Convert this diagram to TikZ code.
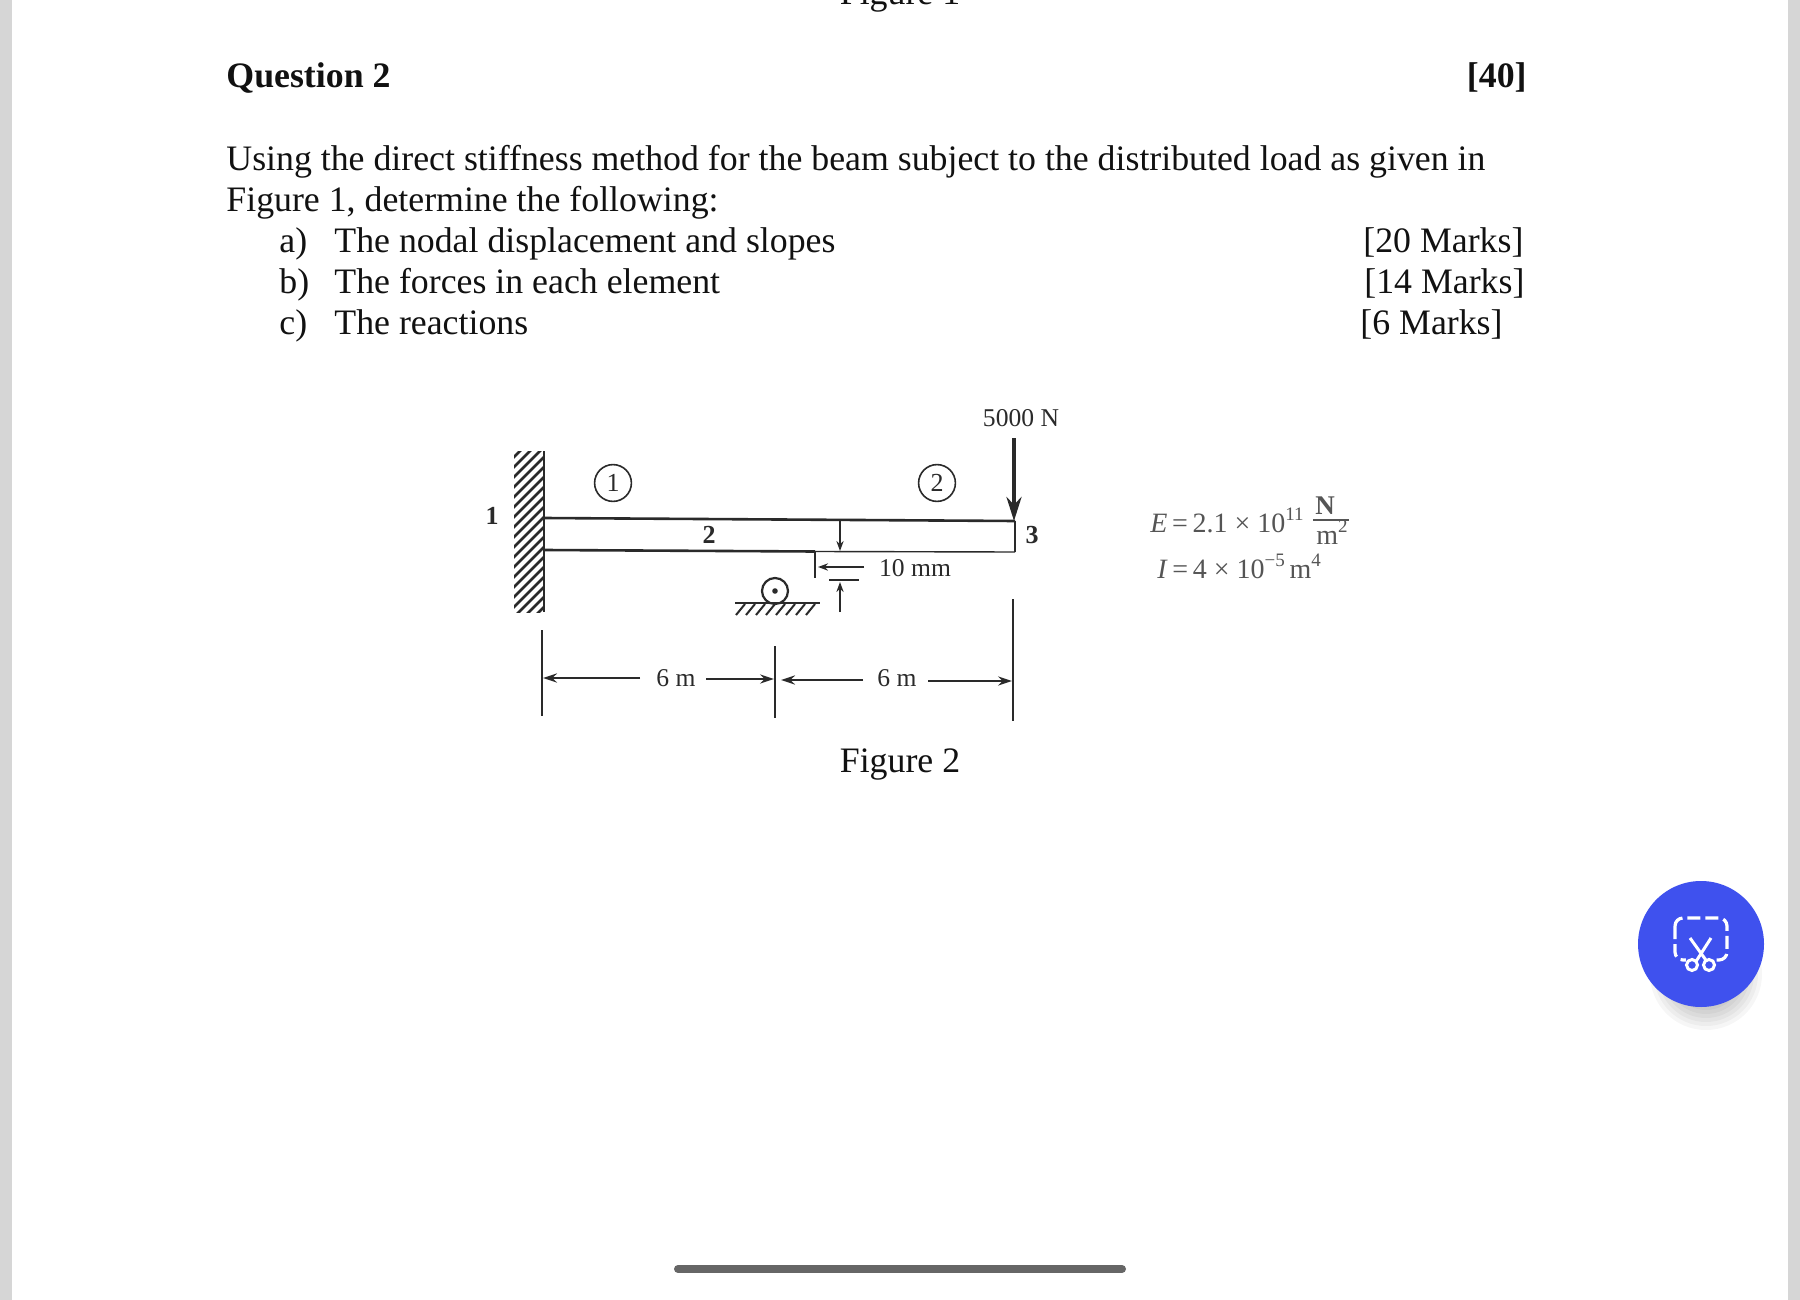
\documentclass[tikz,border=0pt]{standalone}
\usepackage{fontspec}
\setmainfont{Liberation Serif}
\usetikzlibrary{arrows.meta}
\definecolor{stripgrey}{HTML}{D6D6D6}
\definecolor{ink}{HTML}{111111}
\definecolor{figink}{HTML}{2A2A2A}
\definecolor{btnblue}{HTML}{3F51EE}
\definecolor{barcol}{HTML}{666666}
\tikzset{
  body/.style={anchor=base west,inner sep=0pt,text=ink,font=\fontsize{17.9}{21}\selectfont},
  bodybold/.style={body,font=\fontsize{17.9}{21}\selectfont\bfseries},
  figlabel/.style={inner sep=0pt,text=figink,font=\fontsize{12.8}{15}\selectfont},
  figbold/.style={figlabel,font=\fontsize{13}{15}\selectfont\bfseries},
  formula/.style={anchor=base west,inner sep=0pt,text=figink!80,font=\fontsize{14}{16}\selectfont},
  beamline/.style={draw=figink,line width=1.3pt},
  thinline/.style={draw=figink,line width=0.7pt},
  dimline/.style={draw=figink,line width=1.1pt},
  tipb/.style={-{Stealth[length=7pt,width=4.6pt]}},
  tipsmall/.style={-{Stealth[length=5pt,width=3.6pt]}},
  elem/.style={draw=figink,circle,line width=0.8pt,minimum size=18.4pt,inner sep=0pt,text=figink,font=\fontsize{13}{15}\selectfont},
}
\newcommand{\sop}[1]{\raisebox{0.42em}{\fontsize{9.5}{10}\selectfont #1}}
\begin{document}
\begin{tikzpicture}[x=0.5pt,y=-0.5pt]
\useasboundingbox (0,0) rectangle (1800,1300);
\fill[white] (0,0) rectangle (1800,1300);
\fill[stripgrey] (0,0) rectangle (12,1300);
\fill[stripgrey] (1788,0) rectangle (1800,1300);
% page text
\begin{scope}
\clip (0,0) rectangle (1800,1300);
\node[body,anchor=base] (figone) at (900,5) {Figure 1};
\end{scope}
\node[bodybold] (qtitle) at (226,88) {Question 2};
\node[bodybold,anchor=base east] (qmarks) at (1527,88) {[40]};
\node[body] (l1) at (226,171) {Using the direct stiffness method for the beam subject to the distributed load as given in};
\node[body] (l2) at (226,212) {Figure 1, determine the following:};
\node[body] (la) at (279,253) {a)};
\node[body] (lat) at (334,253) {The nodal displacement and slopes};
\node[body] (lam) at (1363,253) {[20 Marks]};
\node[body] (lb) at (279,294) {b)};
\node[body] (lbt) at (334,294) {The forces in each element};
\node[body] (lbm) at (1364,294) {[14 Marks]};
\node[body] (lc) at (279,335) {c)};
\node[body] (lct) at (334,335) {The reactions};
\node[body] (lcm) at (1360,335) {[6 Marks]};
\node[body,anchor=base] (figtwo) at (900,772) {Figure 2};
% wall
\begin{scope}
\clip (514,451) rectangle (544,612);
\foreach \k in {0,10,...,210}{
  \draw[figink,line width=1.25pt] (510,451+\k) -- (548,451+\k-38);
}
\end{scope}
\draw[beamline] (544,451) -- (544,612);
% beam
\coordinate (btl) at (544,518);
\coordinate (btr) at (1015,521);
\coordinate (bbl) at (544,550);
\coordinate (bbm) at (815,551.5);
\coordinate (bbr) at (1015,552);
\draw[beamline] (btl) -- (btr);
\draw[beamline] (bbl) -- (bbm);
\draw[thinline] (bbm) -- (bbr);
\draw[beamline] (btr) -- (bbr);
\node[figbold] (n1) at (492,516) {1};
\node[figbold] (n2) at (709,535) {2};
\node[figbold] (n3) at (1032,535) {3};
\node[elem] (e1) at (613,483) {1};
\node[elem] (e2) at (937,483) {2};
% force
\node[figlabel] (flab) at (1021,418) {5000 N};
\coordinate (fa) at (1014,438);
\coordinate (fb) at (1014,521);
\draw[draw=figink,line width=2pt,-{Stealth[length=12pt,width=7.5pt]}] (fa) -- (fb);
% 10 mm detail
\coordinate (ta) at (840,521);
\coordinate (tb) at (840,551);
\coordinate (ua) at (840,612);
\coordinate (ub) at (840,582);
\draw[thinline,tipsmall] (ta) -- (tb);
\draw[thinline,tipsmall] (ua) -- (ub);
\draw[thinline] (815,552) -- (815,578);
\draw[draw=figink,line width=1pt,tipsmall] (864,567) -- (818,567);
\draw[thinline] (829,580) -- (859,580);
\node[figlabel] (tenmm) at (915,568) {10 mm};
% roller
\node[draw=figink,circle,line width=1.1pt,minimum size=13pt,inner sep=0pt] (roller) at (775,591) {};
\fill[figink] (roller.center) circle (2.8);
\coordinate (gl) at (735,603);
\coordinate (gr) at (820,603);
\draw[draw=figink,line width=1.1pt] (gl) -- (gr);
\foreach \k in {0,10,...,70}{
  \draw[figink,line width=1pt] (736+\k,615) -- (745+\k,604);
}
% dimension lines
\coordinate (da1) at (542,630);
\coordinate (da2) at (542,716);
\coordinate (db1) at (775,646);
\coordinate (db2) at (775,718);
\coordinate (dc1) at (1013,599);
\coordinate (dc2) at (1013,721);
\draw[dimline] (da1) -- (da2);
\draw[draw=figink,line width=1.2pt] (db1) -- (db2);
\draw[draw=figink,line width=1.2pt] (dc1) -- (dc2);
\node[figlabel] (s1) at (676,678) {6 m};
\node[figlabel] (s2) at (897,678) {6 m};
\coordinate (p1) at (640,678);
\coordinate (p2) at (543,678);
\coordinate (p3) at (706,679);
\coordinate (p4) at (774,679);
\coordinate (p5) at (863,680);
\coordinate (p6) at (781,680);
\coordinate (p7) at (928,681);
\coordinate (p8) at (1012,681);
\draw[dimline,tipb] (p1) -- (p2);
\draw[dimline,tipb] (p3) -- (p4);
\draw[dimline,tipb] (p5) -- (p6);
\draw[draw=figink,line width=0.8pt,tipb] (p7) -- (p8);
% formulas
\node[formula] (fe) at (1150,532) {\textit{E}\,=\,2.1 × 10\sop{11}};
\node[formula,anchor=base,font=\fontsize{13.5}{15}\selectfont\bfseries] (fn) at (1325,514) {N};
\node[formula,anchor=base,font=\fontsize{14}{15}\selectfont] (fm) at (1332,544) {m\sop{2}};
\coordinate (fbl) at (1313,520);
\coordinate (fbr) at (1349,520);
\draw[draw=figink!80,line width=0.7pt] (fbl) -- (fbr);
\node[formula] (fi) at (1157,578) {\textit{I}\,=\,4 × 10\sop{−5}\,m\sop{4}};
% home bar
\coordinate (hl) at (678,1269);
\coordinate (hr) at (1122,1269);
\draw[barcol,line width=4pt,line cap=round] (hl) -- (hr);
% shadow and button
\foreach \r in {36,40,...,56}{
  \fill[black,opacity=0.035] (1706,974) circle (\r);
}
\node[fill=btnblue,circle,minimum size=63pt,inner sep=0pt] (btn) at (1701,944) {};
% icon
\draw[white,line width=1.6pt,dash pattern=on 6.5pt off 2.5pt,rounded corners=4pt] (1675,918) rectangle (1727,960);
\coordinate (sa) at (1690,938);
\coordinate (sb) at (1708,963);
\coordinate (sc) at (1711,938);
\coordinate (sd) at (1695,963);
\fill[btnblue] (1686,950) rectangle (1716,972);
\draw[white,line width=1.5pt] (sa) -- (sb);
\draw[white,line width=1.5pt] (sc) -- (sd);
\draw[white,line width=1.5pt,fill=btnblue] (1692,965) circle (5.5);
\draw[white,line width=1.5pt,fill=btnblue] (1709,965) circle (5.5);
\end{tikzpicture}
\end{document}
